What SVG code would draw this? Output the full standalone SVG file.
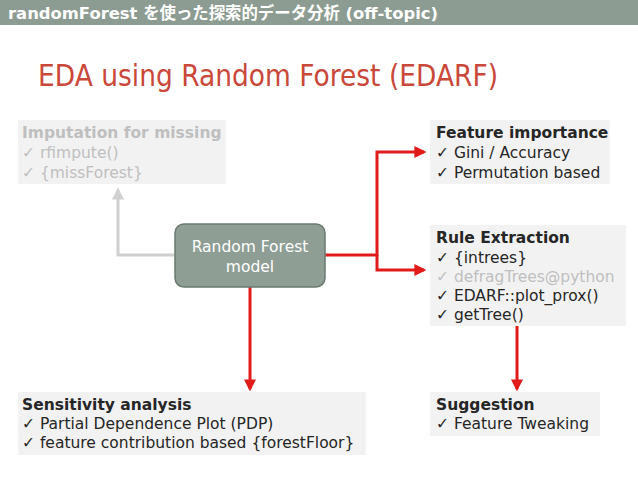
<svg xmlns="http://www.w3.org/2000/svg" width="638" height="478" viewBox="0 0 638 478">
<style>
text{font-family:"DejaVu Sans","Noto Sans CJK JP",sans-serif}
.box{fill:#f2f2f2}
.h{font-weight:bold;font-size:15.5px;fill:#262626}
.t{font-size:15.5px;fill:#262626}
.g{fill:#bfbfbf}
.r{stroke:#e11a1a;stroke-width:3;fill:none}
</style>
<defs>
<marker id="ar" viewBox="0 0 10 10" refX="8" refY="5" markerWidth="4" markerHeight="4" orient="auto"><path d="M0,0 L10,5 L0,10 Z" fill="#e11a1a"/></marker>
<marker id="ag" viewBox="0 0 10 10" refX="8" refY="5" markerWidth="4" markerHeight="4" orient="auto"><path d="M0,0 L10,5 L0,10 Z" fill="#d0d0d0"/></marker>
</defs>
<rect x="0" y="0" width="638" height="25" fill="#8c9c92"/>
<text x="8" y="19" font-size="16.5" font-weight="bold" fill="#fff" textLength="430" lengthAdjust="spacingAndGlyphs">randomForest を使った探索的データ分析 (off-topic)</text>
<text x="38" y="86" font-size="30" fill="#c9483a" font-family="Noto Sans,sans-serif" textLength="460" lengthAdjust="spacingAndGlyphs">EDA using Random Forest (EDARF)</text>
<g id="connectors">
<path d="M175,255 H118 V190" stroke="#d0d0d0" stroke-width="3" fill="none" marker-end="url(#ag)"/>
<path class="r" d="M325,255 H377 V152 H424" marker-end="url(#ar)"/>
<path class="r" d="M377,255 V270 H424" marker-end="url(#ar)"/>
<path class="r" d="M250,287 V389" marker-end="url(#ar)"/>
<path class="r" d="M517,326 V389" marker-end="url(#ar)"/>
</g>
<g id="imputation">
<rect class="box" x="18" y="120" width="208" height="64"/>
<text class="h g" x="22" y="138">Imputation for missing</text>
<text class="t g" x="22" y="158">✓ rfimpute()</text>
<text class="t g" x="22" y="178">✓ {missForest}</text>
</g>
<g id="feature">
<rect class="box" x="430" y="120" width="180" height="64"/>
<text class="h" x="436" y="138">Feature importance</text>
<text class="t" x="436" y="158">✓ Gini / Accuracy</text>
<text class="t" x="436" y="178">✓ Permutation based</text>
</g>
<g id="rule">
<rect class="box" x="430" y="225" width="196" height="101"/>
<text class="h" x="436" y="243">Rule Extraction</text>
<text class="t" x="436" y="263">✓ {intrees}</text>
<text class="t g" x="436" y="282">✓ defragTrees@python</text>
<text class="t" x="436" y="301">✓ EDARF::plot_prox()</text>
<text class="t" x="436" y="320">✓ getTree()</text>
</g>
<g id="rf">
<rect x="175" y="224" width="150" height="63" rx="9" fill="#8f9e95" stroke="#6b7a70" stroke-width="1.5"/>
<text x="250" y="252" text-anchor="middle" font-size="15.5" fill="#fff">Random Forest</text>
<text x="250" y="272" text-anchor="middle" font-size="15.5" fill="#fff">model</text>
</g>
<g id="sensitivity">
<rect class="box" x="18" y="392" width="348" height="63"/>
<text class="h" x="22" y="410">Sensitivity analysis</text>
<text class="t" x="22" y="429">✓ Partial Dependence Plot (PDP)</text>
<text class="t" x="22" y="448">✓ feature contribution based {forestFloor}</text>
</g>
<g id="suggestion">
<rect class="box" x="430" y="392" width="170" height="44"/>
<text class="h" x="436" y="410">Suggestion</text>
<text class="t" x="436" y="429">✓ Feature Tweaking</text>
</g>
</svg>
